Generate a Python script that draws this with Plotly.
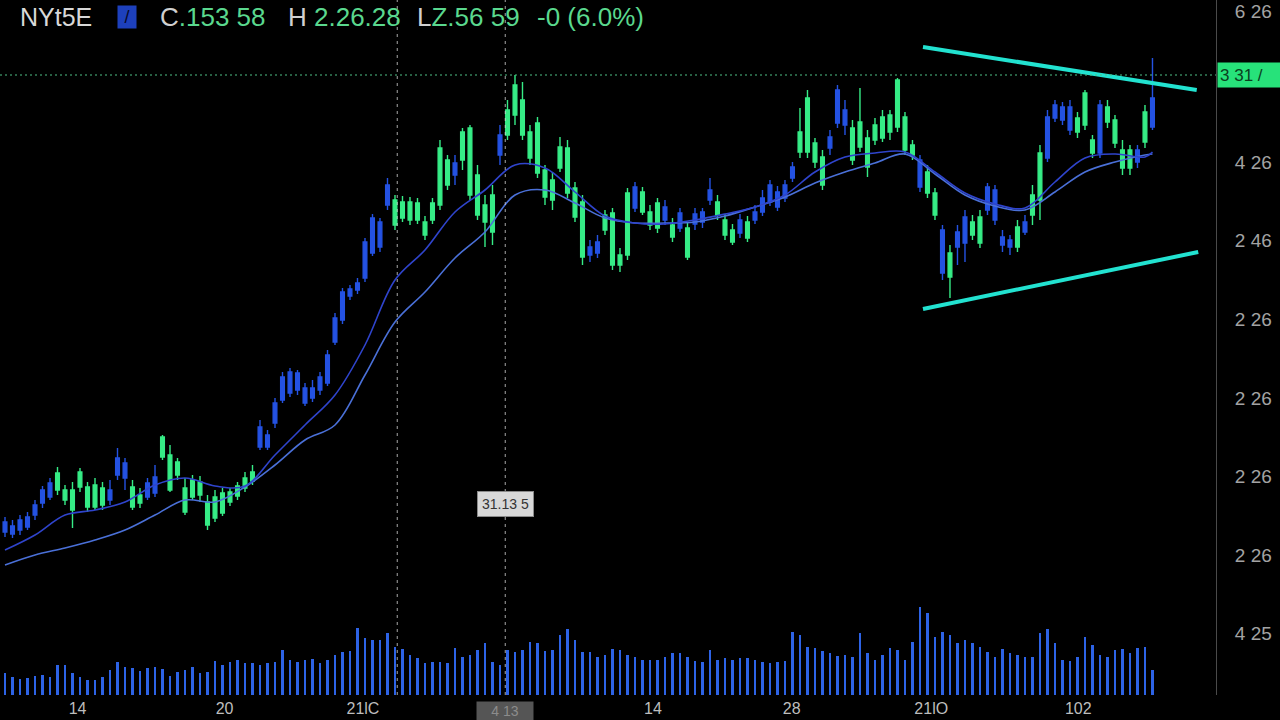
import plotly.graph_objects as go

# ---------------- data ----------------
open_ = [19.8, 19.4, 20.0, 20.3, 21.5, 23.0, 23.7, 23.0, 22.0, 21.0,
         23.3, 21.3, 21.3, 21.5, 23.0, 26.2, 25.7, 21.3, 21.7, 23.7,
         24.3, 26.3, 23.0, 24.5, 20.8, 22.3, 22.5, 19.5, 20.2, 20.7,
         21.8, 22.4, 23.2, 23.9, 29.3, 28.5, 31.7, 34.3, 34.8, 34.7,
         33.2, 33.2, 34.3, 36.5, 40.2, 42.8, 43.1, 43.7, 47.8, 50.2,
         49.8, 53.5, 49.5, 50.2, 50.0, 50.0, 48.5, 50.0, 51.5, 53.5,
         55.7, 56.0, 52.5, 50.5, 49.8, 48.8, 58.5, 58.5, 60.5, 58.5,
         56.2, 54.7, 52.3, 52.0, 55.2, 52.7, 50.3, 46.3, 47.3, 47.8,
         49.0, 45.5, 45.5, 46.5, 53.3, 50.8, 49.5, 49.2, 51.3, 48.3,
         50.7, 46.3, 50.6, 50.8, 53.0, 50.5, 48.5, 47.8, 50.0, 48.2,
         50.8, 52.2, 53.5, 52.8, 53.5, 55.3, 56.8, 56.8, 55.8, 53.5,
         58.3, 63.0, 61.0, 56.0, 57.3, 55.3, 58.0, 58.2, 58.8, 59.3,
         57.0, 56.5, 56.0, 52.7, 50.5, 49.0, 44.3, 48.8, 50.3, 48.5,
         47.7, 53.3, 53.0, 48.3, 48.0, 47.3, 49.8, 50.5, 52.0, 60.3,
         61.5, 61.3, 61.3, 58.8, 59.5, 56.7, 61.5, 59.8, 57.7, 55.2,
         55.2, 57.0, 57.8, 62.2]
high = [20.3, 20.0, 20.5, 20.8, 22.0, 23.4, 24.2, 25.3, 23.5, 23.8,
        25.2, 23.8, 24.2, 23.8, 24.0, 27.2, 26.2, 24.0, 23.2, 24.2,
        25.5, 28.5, 27.5, 26.2, 24.2, 24.5, 24.4, 22.5, 23.0, 23.2,
        23.2, 23.8, 24.8, 25.5, 30.0, 29.0, 32.2, 34.8, 35.2, 35.0,
        33.7, 34.0, 34.8, 37.0, 40.7, 43.2, 43.5, 44.2, 48.2, 50.6,
        50.2, 54.2, 52.5, 52.4, 52.3, 52.2, 50.4, 52.2, 58.0, 56.5,
        56.5, 59.2, 59.5, 55.5, 52.5, 53.5, 59.5, 62.0, 64.5, 63.8,
        59.5, 60.3, 55.5, 54.8, 58.3, 58.0, 53.8, 52.5, 48.0, 48.5,
        51.0, 51.2, 47.2, 53.2, 53.8, 53.3, 51.5, 52.2, 52.0, 50.2,
        51.2, 49.8, 51.2, 51.2, 54.2, 52.5, 50.6, 49.6, 50.6, 50.4,
        51.5, 53.0, 54.0, 53.4, 54.0, 55.8, 61.2, 63.0, 58.2, 57.0,
        59.0, 63.5, 62.0, 60.0, 63.2, 59.0, 60.2, 61.0, 61.0, 64.2,
        60.8, 58.0, 56.5, 55.5, 53.2, 49.5, 47.5, 49.5, 51.0, 50.5,
        51.0, 53.7, 53.5, 49.0, 48.5, 50.0, 50.5, 53.5, 57.5, 61.0,
        62.0, 61.8, 62.0, 60.8, 63.0, 58.5, 62.0, 62.0, 60.5, 58.0,
        57.5, 57.5, 61.5, 66.2]
low = [18.3, 18.2, 18.5, 19.0, 20.0, 21.2, 22.0, 22.5, 21.5, 19.2,
       22.8, 20.8, 21.0, 21.0, 21.5, 24.0, 23.0, 21.0, 21.2, 22.0,
       22.3, 26.0, 22.8, 24.0, 20.5, 22.0, 21.8, 19.0, 19.8, 20.4,
       21.4, 22.0, 22.8, 23.5, 27.0, 27.0, 29.2, 31.7, 32.3, 32.5,
       31.4, 31.8, 32.5, 33.4, 37.5, 39.6, 42.0, 42.6, 43.8, 46.4,
       46.8, 51.0, 49.0, 49.8, 49.5, 49.6, 48.0, 49.6, 51.0, 53.0,
       53.5, 55.0, 52.0, 50.0, 47.3, 47.5, 55.5, 58.0, 59.5, 58.0,
       55.5, 54.2, 51.5, 51.0, 54.8, 52.2, 49.8, 45.5, 45.8, 46.2,
       48.5, 45.0, 44.8, 46.0, 50.8, 50.5, 49.0, 48.7, 49.5, 47.8,
       48.8, 46.0, 49.0, 49.2, 51.5, 50.0, 48.0, 47.5, 48.2, 47.8,
       49.6, 50.4, 51.4, 50.9, 51.8, 53.8, 56.2, 56.2, 55.2, 53.0,
       56.5, 59.2, 58.5, 55.5, 56.8, 54.3, 57.5, 57.8, 58.0, 58.8,
       56.5, 56.0, 52.8, 52.2, 50.0, 44.0, 42.2, 45.5, 45.8, 48.0,
       47.2, 50.5, 49.5, 46.8, 46.5, 46.8, 48.5, 49.5, 50.0, 55.8,
       59.8, 59.5, 58.5, 58.2, 59.0, 56.2, 56.2, 59.2, 57.2, 54.5,
       54.5, 55.2, 57.2, 59.0]
close = [18.8, 18.6, 19.0, 19.3, 20.5, 21.7, 22.3, 24.7, 23.0, 23.0,
         24.8, 23.3, 23.5, 23.2, 22.0, 24.5, 24.2, 23.3, 22.5, 22.3,
         22.7, 28.3, 26.5, 25.8, 23.2, 24.0, 23.8, 21.8, 22.3, 22.7,
         22.8, 23.4, 24.2, 24.8, 27.3, 27.3, 29.7, 32.0, 32.7, 33.0,
         31.7, 32.2, 33.0, 33.7, 37.8, 40.0, 42.4, 43.0, 44.2, 46.7,
         47.3, 51.5, 52.0, 51.8, 51.8, 51.7, 49.8, 51.7, 57.2, 56.0,
         54.5, 58.8, 59.2, 54.5, 51.5, 52.5, 56.5, 61.0, 63.5, 62.0,
         58.8, 59.7, 55.0, 54.0, 57.3, 57.2, 53.2, 51.8, 46.5, 46.7,
         50.5, 50.7, 46.5, 52.7, 51.2, 52.8, 50.8, 51.7, 50.0, 49.5,
         49.2, 49.2, 49.6, 49.8, 52.0, 51.8, 50.0, 49.0, 48.7, 49.8,
         50.0, 50.8, 51.8, 51.3, 52.2, 54.2, 58.8, 62.2, 57.7, 56.3,
         57.2, 59.7, 59.5, 59.2, 59.8, 58.2, 59.5, 60.3, 60.5, 64.0,
         60.3, 57.5, 53.3, 54.8, 52.7, 44.7, 46.7, 47.3, 47.7, 49.8,
         50.3, 51.0, 50.0, 47.5, 47.3, 49.3, 48.8, 52.5, 56.7, 56.2,
         60.2, 60.0, 59.0, 60.2, 62.7, 58.0, 56.7, 61.3, 60.0, 57.0,
         57.0, 55.8, 60.8, 59.3]
volume = [22, 18, 16, 17, 19, 20, 18, 30, 30, 22,
          18, 15, 15, 18, 25, 33, 28, 27, 24, 27,
          28, 26, 19, 23, 25, 28, 22, 23, 34, 30,
          33, 35, 32, 32, 30, 32, 33, 45, 35, 33,
          35, 36, 32, 35, 40, 43, 44, 67, 57, 55,
          55, 62, 48, 46, 40, 37, 32, 33, 33, 32,
          47, 38, 40, 45, 52, 33, 30, 45, 43, 45,
          53, 52, 44, 45, 60, 66, 55, 43, 43, 38,
          40, 46, 45, 40, 38, 35, 35, 35, 38, 42,
          42, 38, 34, 33, 45, 35, 37, 35, 37, 37,
          35, 33, 32, 33, 34, 63, 60, 48, 47, 44,
          42, 39, 40, 38, 62, 42, 35, 40, 47, 45,
          35, 53, 88, 82, 58, 63, 60, 52, 55, 52,
          48, 43, 38, 46, 42, 40, 38, 38, 62, 66,
          52, 35, 34, 38, 58, 50, 40, 38, 45, 46,
          42, 47, 48, 25]
bar_index = list(range(len(close)))

# moving averages, read at every 4th bar (+ the last bar)
ma_index = list(range(0, 153, 4)) + [153]
ma_fast = [17.0, 18.5, 20.5, 21.0, 21.8, 23.5, 24.2, 23.4, 23.4, 26.5,
           29.5, 32.5, 37.5, 44.0, 47.0, 50.8, 53.0, 55.5, 55.2, 52.8,
           50.4, 49.7, 49.6, 50.0, 50.6, 51.3, 52.5, 54.8, 56.3, 56.7,
           56.8, 54.8, 52.7, 51.6, 51.2, 53.8, 56.2, 56.6, 56.3, 56.8]
ma_slow = [15.5, 16.5, 17.2, 18.0, 19.0, 20.5, 22.0, 21.8, 23.3, 25.5,
           28.0, 29.5, 34.5, 39.8, 42.8, 46.2, 48.8, 52.5, 53.0, 51.7,
           50.2, 49.7, 49.7, 49.8, 50.4, 51.3, 52.3, 53.7, 54.8, 55.7,
           56.6, 54.6, 52.5, 51.4, 51.0, 52.8, 54.8, 55.8, 56.5, 56.6]

# triangle trendlines (bar index, price)
upper_trend_x = [122.4, 158.9]
upper_trend_y = [67.3, 63.0]
lower_trend_x = [122.4, 159.1]
lower_trend_y = [41.1, 46.8]

# crosshair / last price
crosshair_x = [52.3, 66.7]
crosshair_price = 21.6
crosshair_price_label = "31.13 5"
crosshair_date_label = "4 13"
last_price = 64.5
last_price_label = "3 31 /"

# axis labels
price_tickvals = [70.9, 55.8, 48.0, 40.1, 32.2, 24.4, 16.5, 8.7]
price_ticktext = ["6 26", "4 26", "2 46", "2 26", "2 26", "2 26", "2 26", "4 25"]
date_tickvals = [9.67, 29.27, 47.73, 86.4, 104.9, 123.5, 143.1]
date_ticktext = ["14", "20", "21lC", "14", "28", "21lO", "102"]

# ---------------- figure ----------------
W, H = 1280, 720
ML, MR, MT, MB = 0, 64, 0, 25
PW, PH = W - ML - MR, H - MT - MB
FONT = "Liberation Sans, Arial, sans-serif"
GREEN = "#36ec86"
BLUE = "#2452e2"
TXT_GREEN = "#5ad88e"


def px_x(px):
    return (px - ML) / PW


def px_y(py):
    return 1 - (py - MT) / PH


fig = go.Figure()

fig.add_trace(go.Bar(
    x=bar_index, y=volume, yaxis="y2", width=0.38,
    marker=dict(color="#2d63e6", line=dict(width=0)), hoverinfo="skip"))

fig.add_trace(go.Scatter(
    x=ma_index, y=ma_slow, mode="lines",
    line=dict(color="#4a70d8", width=1.6, shape="spline", smoothing=1.0)))
fig.add_trace(go.Scatter(
    x=ma_index, y=ma_fast, mode="lines",
    line=dict(color="#2f44cc", width=1.6, shape="spline", smoothing=1.0)))

fig.add_trace(go.Candlestick(
    x=bar_index, open=open_, high=high, low=low, close=close,
    increasing=dict(line=dict(color=GREEN, width=1.4), fillcolor=GREEN),
    decreasing=dict(line=dict(color=BLUE, width=1.4), fillcolor=BLUE),
    whiskerwidth=0))

for tx, ty in ((upper_trend_x, upper_trend_y), (lower_trend_x, lower_trend_y)):
    fig.add_trace(go.Scatter(x=tx, y=ty, mode="lines",
                             line=dict(color="#22e2d0", width=4)))

shapes = []
for cx in crosshair_x:
    shapes.append(dict(type="line", xref="x", yref="paper", x0=cx, x1=cx, y0=0, y1=1,
                       line=dict(color="rgba(210,210,210,0.8)", width=1, dash="3px,4px")))
shapes.append(dict(type="line", xref="paper", yref="y", x0=0, x1=1,
                   y0=last_price, y1=last_price,
                   line=dict(color="#4fbf86", width=1.2, dash="2px,3px")))

ann = []
hy = px_y(17)
ann.append(dict(xref="paper", yref="paper", x=px_x(18), y=hy, xanchor="left", yanchor="middle",
                text="NYt5E", showarrow=False, font=dict(family=FONT, size=25, color="#d8d8d8")))
ann.append(dict(xref="paper", yref="paper", x=px_x(117), y=hy, xanchor="left", yanchor="middle",
                text="/", showarrow=False, bgcolor="#1d40bc", width=16, height=20, borderpad=1,
                font=dict(family=FONT, size=18, color="#06082a")))
ann.append(dict(xref="paper", yref="paper", x=px_x(158), y=hy, xanchor="left", yanchor="middle",
                text=f'C<span style="color:{TXT_GREEN}">.153 58</span>', showarrow=False,
                font=dict(family=FONT, size=26, color="#d0d0d0")))
ann.append(dict(xref="paper", yref="paper", x=px_x(286), y=hy, xanchor="left", yanchor="middle",
                text=f'H <span style="color:{TXT_GREEN}">2.26.28</span>', showarrow=False,
                font=dict(family=FONT, size=26, color="#d0d0d0")))
ann.append(dict(xref="paper", yref="paper", x=px_x(415), y=hy, xanchor="left", yanchor="middle",
                text=f'L<span style="color:{TXT_GREEN}">Z.56 59</span>', showarrow=False,
                font=dict(family=FONT, size=26, color="#d0d0d0")))
ann.append(dict(xref="paper", yref="paper", x=px_x(535), y=hy, xanchor="left", yanchor="middle",
                text="-0 (6.0%)", showarrow=False,
                font=dict(family=FONT, size=26, color=TXT_GREEN)))

# last price tag on the axis
ann.append(dict(xref="paper", yref="y", x=px_x(1217), y=last_price, xanchor="left", yanchor="middle",
                text=last_price_label, showarrow=False, bgcolor="#27e27a", width=58, height=20,
                align="left", borderpad=2, font=dict(family=FONT, size=17, color="#0a4020")))
# crosshair price tag
ann.append(dict(xref="x", yref="y", x=crosshair_x[1], y=crosshair_price, xanchor="center",
                yanchor="middle", text=crosshair_price_label, showarrow=False,
                bgcolor="#d8d8d8", bordercolor="#8a8a8a", borderwidth=1, borderpad=4,
                font=dict(family=FONT, size=14, color="#333333")))
# crosshair date tag
ann.append(dict(xref="x", yref="paper", x=crosshair_x[1], y=0, xanchor="center", yanchor="top",
                yshift=-6, text=crosshair_date_label, showarrow=False, bgcolor="#555555",
                width=54, height=16, font=dict(family=FONT, size=14, color="#8c8c8c")))

fig.update_layout(
    width=W, height=H,
    margin=dict(l=ML, r=MR, t=MT, b=MB, autoexpand=False),
    paper_bgcolor="#000000", plot_bgcolor="#000000",
    showlegend=False, bargap=0,
    shapes=shapes, annotations=ann,
    xaxis=dict(range=[-0.667, 161.47], showgrid=False, zeroline=False, showline=False,
               rangeslider=dict(visible=False), ticks="", automargin=False,
               tickvals=date_tickvals, ticktext=date_ticktext,
               tickfont=dict(family=FONT, size=16, color="#bdbdbd"),
               ticklabelstandoff=2),
    yaxis=dict(range=[2.5, 72.0], side="right", showgrid=False, zeroline=False,
               showline=True, linecolor="#4a4a4a", linewidth=1, ticks="", automargin=False,
               tickvals=price_tickvals, ticktext=price_ticktext,
               tickfont=dict(family=FONT, size=19, color="#a3a3a3"),
               ticklabelstandoff=14, ticklabeloverflow="allow"),
    yaxis2=dict(overlaying="y", range=[0, PH], visible=False),
)

fig.write_html(
    "out.html",
    config={"displayModeBar": False},
    post_script="document.body.style.margin='0';document.body.style.overflow='hidden';",
)
